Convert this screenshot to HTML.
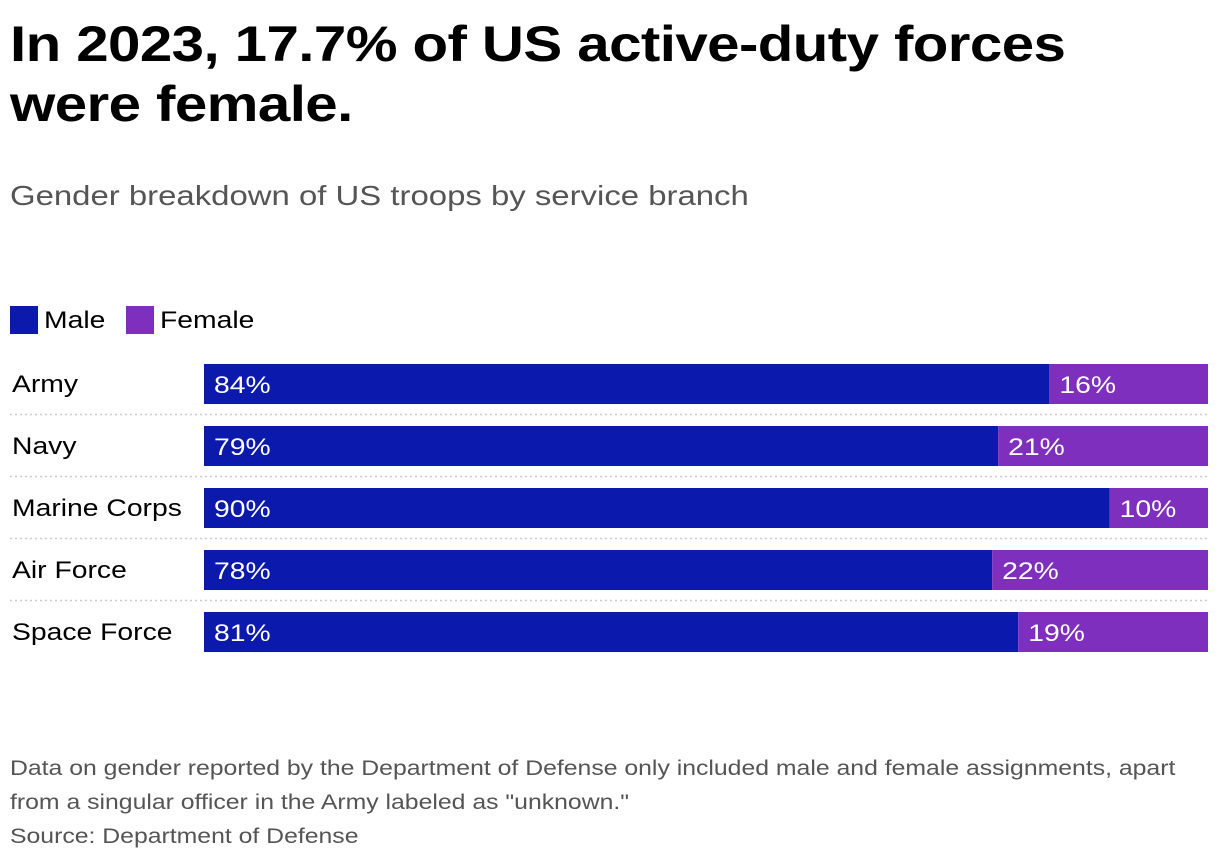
<!DOCTYPE html>
<html><head><meta charset="utf-8"><style>
body{margin:0;width:1220px;height:866px;background:#fff;font-family:"Liberation Sans",sans-serif;position:relative;overflow:hidden}
.t{position:absolute;left:10px;top:14px;font-size:50px;font-weight:bold;line-height:60px;color:#000;letter-spacing:-0.5px;transform:scaleX(1.165);transform-origin:0 0;white-space:nowrap}
.s{position:absolute;left:10px;top:180px;font-size:28px;color:#555;transform:scaleX(1.175);transform-origin:0 0;white-space:nowrap}
.n{position:absolute;left:10px;top:752px;font-size:21px;line-height:34px;color:#555;transform:scaleX(1.18);transform-origin:0 0;white-space:nowrap}
</style></head><body>
<div class="t">In 2023, 17.7% of US active-duty forces<br>were female.</div>
<div class="s">Gender breakdown of US troops by service branch</div>
<svg id="c" width="1220" height="866" style="position:absolute;left:0;top:0"></svg>
<div class="n">Data on gender reported by the Department of Defense only included male and female assignments, apart<br>from a singular officer in the Army labeled as "unknown."<br>Source: Department of Defense</div>
<script>
const categories=["Army","Navy","Marine Corps","Air Force","Space Force"];
const maleValues=[84.2,79.1,90.2,78.5,81.1];
const maleLabels=["84%","79%","90%","78%","81%"];
const femaleLabels=["16%","21%","10%","22%","19%"];
const NS="http://www.w3.org/2000/svg";
const svg=document.getElementById("c");
const x0=204,x1=1208,top0=364,pitch=62,bh=40,SX=1.18;
const xs=v=>x0+(x1-x0)*v/100;
function mk(tag,attrs,txt){const e=document.createElementNS(NS,tag);for(const k in attrs)e.setAttribute(k,attrs[k]);if(txt!==undefined)e.textContent=txt;svg.appendChild(e);return e;}
function tx(x,y,size,fill,txt){return mk("text",{x:0,y:0,"font-size":size,fill:fill,transform:`translate(${x},${y}) scale(${SX},1)`},txt);}
let e=mk("rect",{x:10,y:306,width:28,height:28,fill:"#0b1aad"});


e=tx(44,328,24,"#000","Male");


e=mk("rect",{x:126,y:306,width:28,height:28,fill:"#7e2fbd"});


e=tx(160,328,24,"#000","Female");


categories.forEach((c,i)=>{
  const y=top0+i*pitch;
  let t=tx(12,y+28,24,"#000",c);
  
  
  const xm=xs(maleValues[i]);
  let r=mk("rect",{x:x0,y:y,width:xm-x0,height:bh,fill:"#0b1aad"});
  
  
  let f=mk("rect",{x:xm,y:y,width:x1-xm,height:bh,fill:"#7e2fbd"});
  
  
  let l1=tx(x0+10,y+29,24,"#fff",maleLabels[i]);
  
  
  let l2=tx(xm+10,y+29,24,"#fff",femaleLabels[i]);
  
  
  if(i<categories.length-1){
    let s=mk("line",{x1:10,x2:x1,y1:y+bh+10.5,y2:y+bh+10.5,stroke:"#ccc","stroke-width":1.5,"stroke-dasharray":"2,3"});
    
    
  }
});
</script>
</body></html>
